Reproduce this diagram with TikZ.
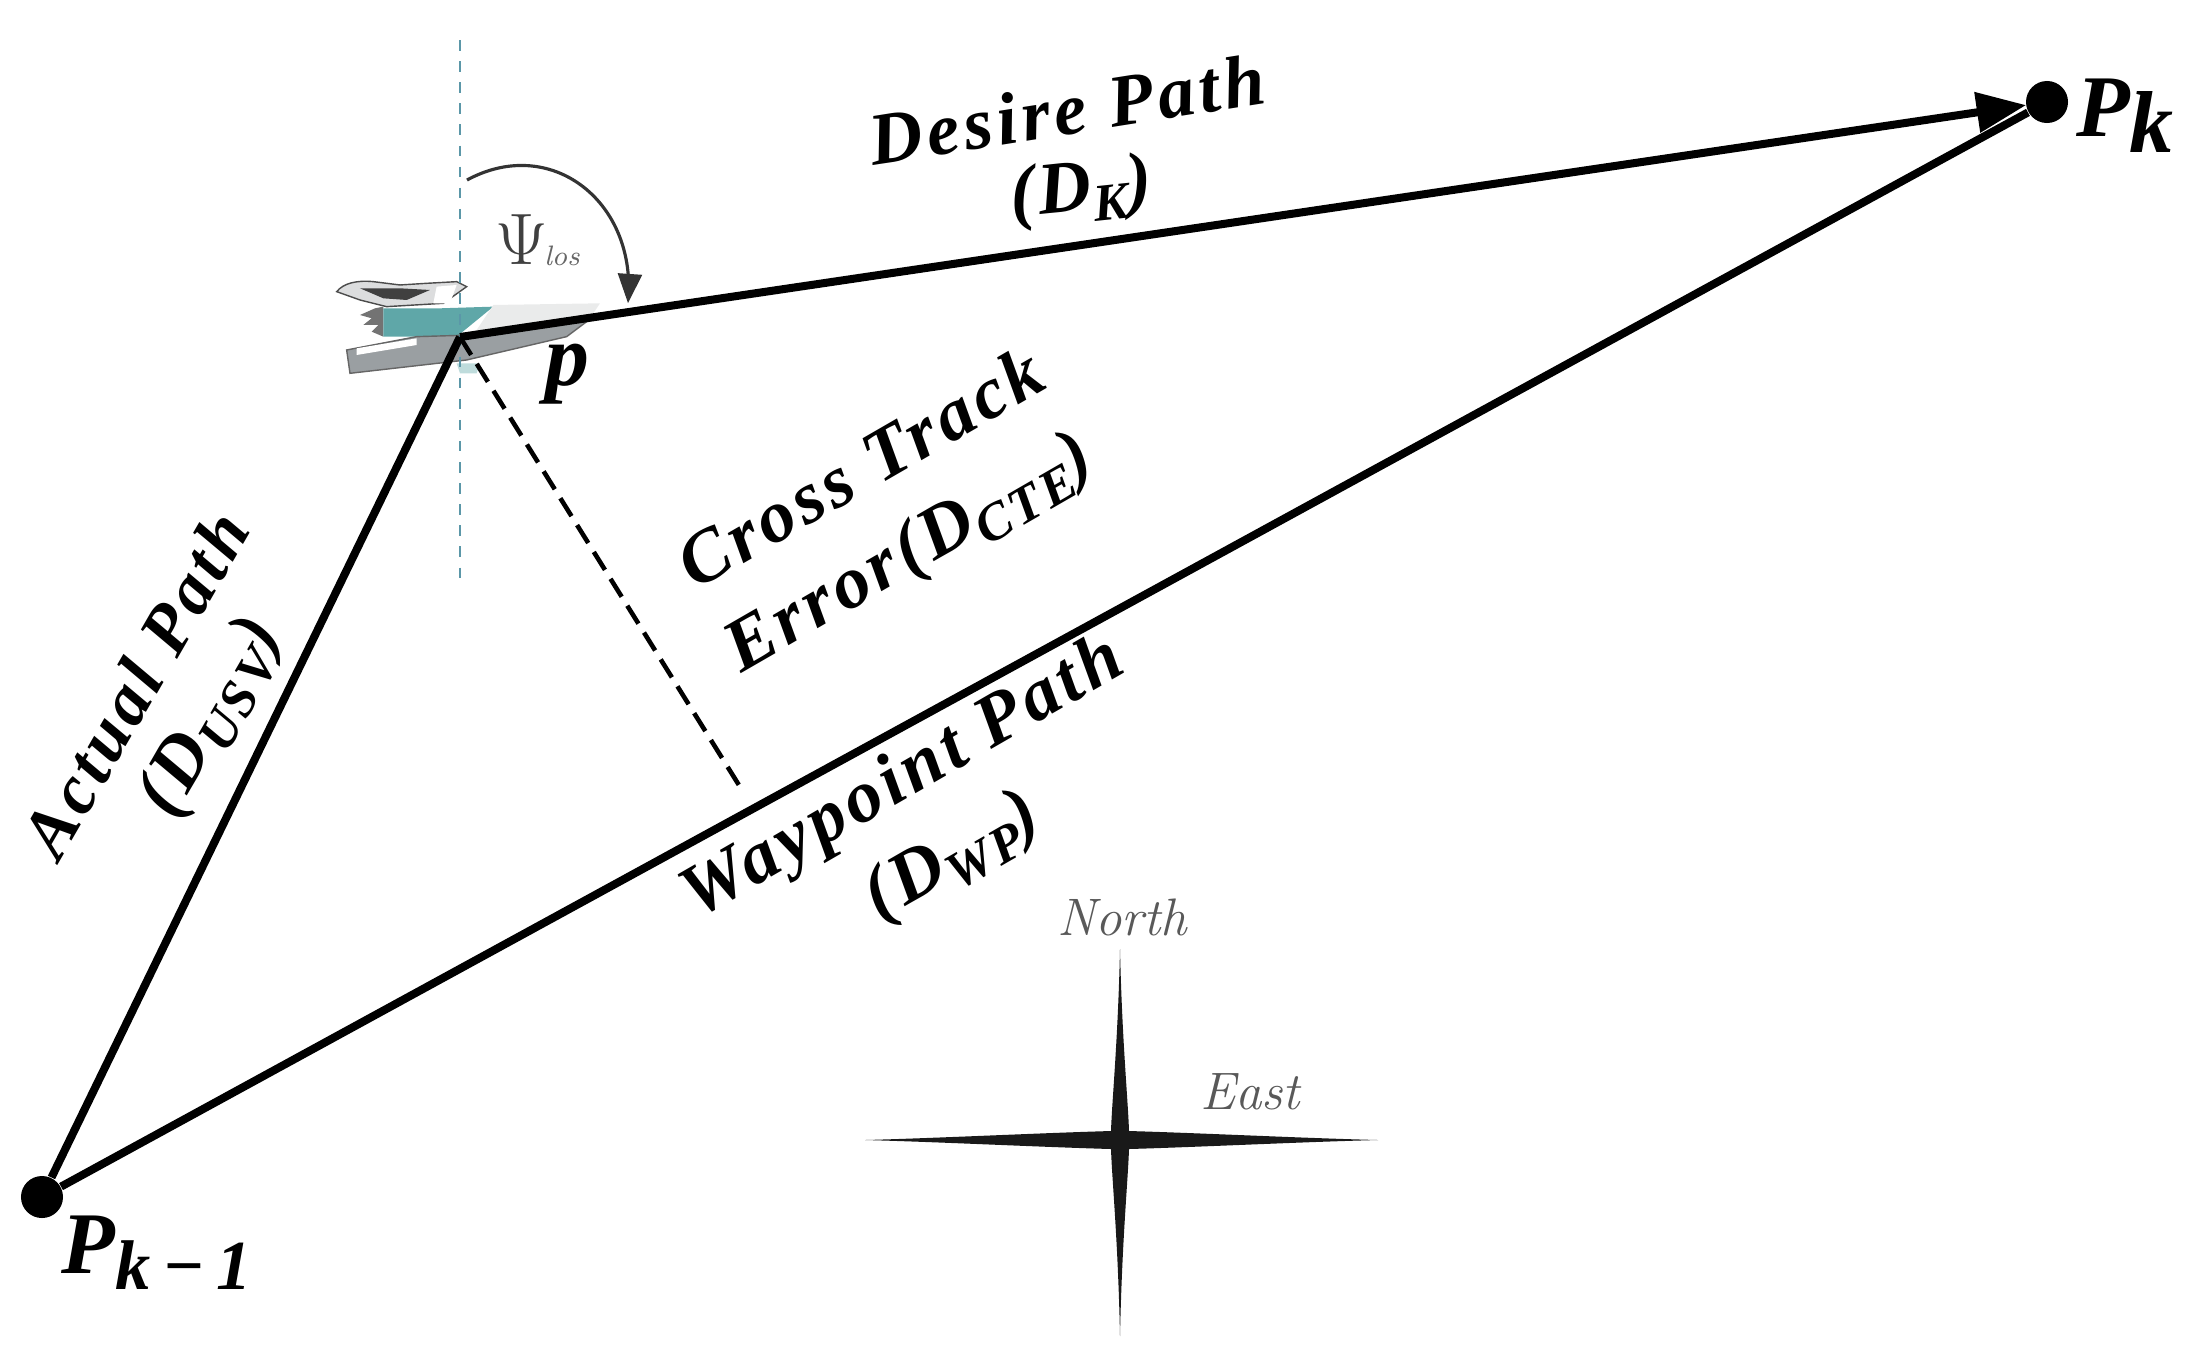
\documentclass[tikz,border=0pt]{standalone}
\usepackage{fontspec}
\usetikzlibrary{arrows}
\newfontfamily\pathfont[LetterSpace=6]{Liberation Serif}
\newfontfamily\pointfont{Liberation Serif}
\newcommand{\subt}[1]{\lower.4ex\hbox{\fontsize{15}{15}\selectfont #1}}
\definecolor{northline}{HTML}{5B97A8}
\definecolor{deckgray}{HTML}{9A9FA2}
\definecolor{hullteal}{HTML}{5FA7A8}
\tikzset{
pathlabel/.style={font=\pathfont\fontsize{21}{24}\selectfont\bfseries\itshape,inner sep=0pt},
pointlabel/.style={font=\pointfont\fontsize{25}{30}\selectfont\bfseries\itshape,inner sep=0pt},
compasslabel/.style={font=\itshape\fontsize{15}{18}\selectfont,text=black!65,inner sep=0pt},
waypoint/.style={circle,fill=black,inner sep=0pt,minimum size=.42cm},
pathline/.style={line width=.08cm,black}
}

\begin{document}
\begin{tikzpicture}[>=triangle 45,x=.01cm,y=-.01cm]
\useasboundingbox (0,0) rectangle (2188,1369);
% usv
\begin{scope}[shift={(300,20)},scale=.3333]
\fill[deckgray!35,draw=black!70,line width=.4pt] (110,815) .. controls (130,790) and (170,780) .. (220,785) -- (300,795) -- (380,790) -- (470,785) -- (500,800) -- (430,850) -- (260,860) -- (180,840) -- cycle;
\fill[black!75] (180,805) -- (300,805) -- (390,810) -- (320,840) -- (250,835) -- cycle;
\fill[white] (410,800) -- (470,795) -- (450,850) -- (400,850) -- cycle;
\fill[black!55] (180,885) -- (225,865) -- (250,860) -- (250,950) -- (215,935) -- (235,915) -- (190,915) -- (215,895) -- cycle;
\fill[hullteal] (250,865) -- (420,865) -- (580,860) -- (470,950) -- (250,950) -- cycle;
\fill[white!30!deckgray!30] (580,855) -- (900,850) -- (880,880) -- (520,945) -- cycle;
\fill[deckgray,draw=black!60,line width=.4pt] (140,990) -- (350,950) -- (520,945) -- (880,890) -- (800,950) -- (500,1020) -- (150,1060) -- cycle;
\fill[white] (170,985) -- (350,955) -- (350,975) -- (170,1005) -- cycle;
\fill[hullteal!40] (470,1030) -- (540,1030) -- (530,1060) -- (480,1060) -- cycle;
\end{scope}
% points
\node[waypoint] (pk) at (2047,102) {};
\node[waypoint] (pkm) at (42,1197) {};
\coordinate (p) at (460,337);
\coordinate (foot) at (742,790);
\coordinate (ntop) at (460,40);
\coordinate (nbot) at (460,582);
\coordinate (psia) at (467,180);
\coordinate (psib) at (628,303);
% lines
\draw[northline,dashed,line width=.8pt] (ntop) -- (nbot);
\draw[pathline,->] (p) -- (pk);
\draw[pathline] (pkm) -- (pk);
\draw[pathline] (pkm) -- (p);
\draw[black,line width=1.3pt,dash pattern=on 6pt off 3pt] (p) -- (foot);
\draw[black!80,line width=.9pt,->] (psia) .. controls (550,135) and (635,200) .. (psib);
% compass
\node[inner sep=0pt] (cmp) at (1120,1140) {};
\fill[black!90] (1120,949) .. controls (1122,1040) and (1128,1100) .. (1129,1131) .. controls (1200,1133) and (1300,1138) .. (1378,1140) .. controls (1300,1142) and (1200,1147) .. (1129,1149) .. controls (1128,1180) and (1122,1240) .. (1120,1336) .. controls (1118,1240) and (1112,1180) .. (1111,1149) .. controls (1040,1147) and (940,1142) .. (865,1140) .. controls (940,1138) and (1040,1133) .. (1111,1131) .. controls (1112,1100) and (1118,1040) .. cycle;
\node[compasslabel] (north) at (1122,917) {North};
\node[compasslabel] (east) at (1250,1092) {East};
% labels
\node[pathlabel,rotate=9] (desire) at (1067,109) {Desire Path};
\node[pathlabel,rotate=6] (dk) at (1081,192) {(D\subt{K})};
\node[pathlabel,rotate=30] (cross) at (860,467) {Cross Track};
\node[pathlabel,rotate=30] (error) at (910,555) {Error(D\subt{CTE})};
\node[pathlabel,rotate=30] (wp) at (904,780) {Waypoint Path};
\node[pathlabel,rotate=30] (dwp) at (953,858) {(D\subt{WP})};
\node[pathlabel,rotate=60,font=\pathfont\fontsize{20}{24}\selectfont\bfseries\itshape] (actual) at (135,684) {Actual Path};
\node[pathlabel,rotate=60] (dusv) at (212,718) {(D\subt{USV})};
\node[pointlabel] (lp) at (567,374) {p};
\node[pointlabel] (lpk) at (2125,116) {P\lower.4ex\hbox{k}};
\node[pointlabel] (lpkm) at (157,1253) {P\lower.4ex\hbox{\fontsize{20}{20}\selectfont k\,\textminus\,1}};
\node[inner sep=0pt,text=black!75,font=\fontsize{22}{22}\selectfont] (psi) at (522,240) {$\Psi$};
\node[inner sep=0pt,text=black!60,font=\itshape\fontsize{8}{8}\selectfont] (los) at (562,256) {los};
\end{tikzpicture}
\end{document}
